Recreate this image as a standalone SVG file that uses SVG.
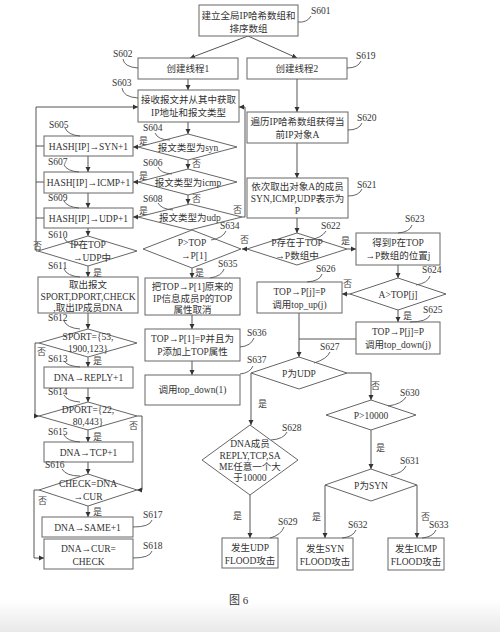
<svg xmlns="http://www.w3.org/2000/svg" width="500" height="632" viewBox="0 0 500 632">
<defs>
<marker id="ah" markerWidth="6" markerHeight="6" refX="5" refY="3" orient="auto" markerUnits="userSpaceOnUse">
<path d="M0,0.5 L5,3 L0,5.5 Z" fill="#333"/>
</marker>
<linearGradient id="bg" x1="0" y1="0" x2="0" y2="1">
<stop offset="0" stop-color="#ffffff"/>
<stop offset="1" stop-color="#e9e9e9"/>
</linearGradient>
<style>
.b{fill:#fff;stroke:#666;stroke-width:1}
.t{font-family:"Liberation Serif","DejaVu Serif","Noto Sans CJK SC",serif;font-size:9.5px;fill:#333;text-anchor:middle}
.l{font-family:"Liberation Serif","DejaVu Serif","Noto Sans CJK SC",serif;font-size:9.5px;fill:#333}
.y{font-family:"Liberation Serif","Noto Sans CJK SC",serif;font-size:9px;fill:#444}
.c{fill:none;stroke:#555;stroke-width:1}
.a{marker-end:url(#ah)}
.ld{fill:none;stroke:#555;stroke-width:0.9}
</style>
</defs>
<rect x="0" y="0" width="500" height="632" fill="#fff"/>
<rect x="0" y="600" width="500" height="32" fill="url(#bg)"/>

<g id="connectors">
<path class="c a" d="M248,36 L190,58"/>
<path class="c a" d="M248,36 L297,58"/>
<path class="c a" d="M188,79 L188,90"/>
<path class="c a" d="M297,79 L297,112"/>
<path class="c a" d="M297,143 L297,178"/>
<path class="c a" d="M297,218 L297,233"/>
<path class="c a" d="M188,122 L188,134"/>
<path class="c a" d="M188,160 L188,169"/>
<path class="c a" d="M188,195 L188,204"/>
<path class="c a" d="M138,147 L133,147"/>
<path class="c a" d="M138,182 L133,182"/>
<path class="c a" d="M138,217 L133,217"/>
<path class="c a" d="M242,217 L245,217 L245,107 L239,107"/>
<path class="c" d="M44,146 L36,146"/>
<path class="c" d="M44,182 L36,182"/>
<path class="c" d="M44,218 L36,218"/>
<path class="c a" d="M38,251 L36,251 L36,107 L138,107"/>
<path class="c a" d="M88,156 L88,172"/>
<path class="c a" d="M88,193 L88,208"/>
<path class="c a" d="M88,228 L88,236"/>
<path class="c a" d="M88,266 L88,277"/>
<path class="c a" d="M88,313 L88,329"/>
<path class="c a" d="M88,357 L88,367"/>
<path class="c a" d="M39,343 L35,343 L35,416 L39,416"/>
<path class="c a" d="M88,388 L88,402"/>
<path class="c a" d="M88,430 L88,442"/>
<path class="c a" d="M137,416 L142,416 L142,490 L137,490"/>
<path class="c a" d="M88,462 L88,474"/>
<path class="c a" d="M88,506 L88,517"/>
<path class="c a" d="M39,490 L34,490 L34,558 L44,558"/>
<path class="c a" d="M347,249 L356,249"/>
<path class="c a" d="M247,249 L242,249"/>
<path class="c a" d="M192,268 L192,278"/>
<path class="c a" d="M192,315 L192,329"/>
<path class="c a" d="M192,361 L192,375"/>
<path class="c a" d="M398,265 L398,278"/>
<path class="c a" d="M350,294 L342,294"/>
<path class="c a" d="M398,310 L398,322"/>
<path class="c" d="M356,339 L299,339"/>
<path class="c a" d="M299,313 L299,357"/>
<path class="c a" d="M251,373 L251,425"/>
<path class="c a" d="M347,373 L371,373 L371,400"/>
<path class="c a" d="M250,495 L250,538"/>
<path class="c a" d="M371,430 L371,469"/>
<path class="c a" d="M325,485 L325,538"/>
<path class="c a" d="M417,485 L417,538"/>
<text class="y" x="139" y="144">是</text>
<text class="y" x="139" y="179">是</text>
<text class="y" x="139" y="214">是</text>
<text class="y" x="192" y="167">否</text>
<text class="y" x="192" y="202">否</text>
<text class="y" x="233" y="213">否</text>
<text class="y" x="33" y="249">否</text>
<text class="y" x="93" y="276">是</text>
<text class="y" x="37" y="355">否</text>
<text class="y" x="93" y="364">是</text>
<text class="y" x="129" y="429">否</text>
<text class="y" x="93" y="440">是</text>
<text class="y" x="38" y="504">否</text>
<text class="y" x="93" y="515">是</text>
<text class="y" x="341" y="244">是</text>
<text class="y" x="240" y="243">否</text>
<text class="y" x="195" y="276">是</text>
<text class="y" x="343" y="287">否</text>
<text class="y" x="403" y="319">是</text>
<text class="y" x="258" y="407">是</text>
<text class="y" x="371" y="389">否</text>
<text class="y" x="233" y="519">是</text>
<text class="y" x="376" y="451">是</text>
<text class="y" x="312" y="520">是</text>
<text class="y" x="421" y="520">否</text>
</g>

<g id="S601"><rect class="b" x="199" y="5" width="99" height="31"/><text class="t" x="248.5" y="18.5">建立全局IP哈希数组和</text><text class="t" x="248.5" y="31.5">排序数组</text><path class="ld" d="M298,22 Q307,23 311,16"/><text class="l" x="311" y="14">S601</text></g>
<g id="S602"><rect class="b" x="138" y="58" width="100" height="21"/><text class="t" x="188" y="72">创建线程1</text><path class="ld" d="M123,59 Q124,67 138,68"/><text class="l" x="113" y="57">S602</text></g>
<g id="S619"><rect class="b" x="247" y="58" width="100" height="21"/><text class="t" x="297" y="72">创建线程2</text><path class="ld" d="M347,68 Q358,68 361,61"/><text class="l" x="356" y="59">S619</text></g>
<g id="S603"><rect class="b" x="138" y="90" width="101" height="32"/><text class="t" x="188.5" y="103">接收报文并从其中获取</text><text class="t" x="188.5" y="116">IP地址和报文类型</text><path class="ld" d="M122,88 Q123,97 138,98"/><text class="l" x="112" y="86">S603</text></g>
<g id="S620"><rect class="b" x="247" y="112" width="101" height="31"/><text class="t" x="297.5" y="125">遍历IP哈希数组获得当</text><text class="t" x="297.5" y="138">前IP对象A</text><path class="ld" d="M348,130 Q359,130 362,123"/><text class="l" x="357" y="121">S620</text></g>
<g id="S621"><rect class="b" x="247" y="178" width="101" height="40"/><text class="t" x="297.5" y="190">依次取出对象A的成员</text><text class="t" x="297.5" y="202">SYN,ICMP,UDP表示为</text><text class="t" x="297.5" y="214">P</text><path class="ld" d="M348,196 Q359,196 362,189"/><text class="l" x="357" y="188">S621</text></g>
<g id="S604"><path class="b" d="M188,134 L237,147 L188,160 L138,147 Z"/><text class="t" x="188" y="150.5">报文类型为syn</text><path class="ld" d="M155,133 Q158,140 170,140"/><text class="l" x="143" y="131">S604</text></g>
<g id="S605"><rect class="b" x="44" y="136" width="89" height="20"/><text class="t" x="88.5" y="149.5">HASH[IP]→SYN+1</text><path class="ld" d="M65,128 Q68,135 80,136"/><text class="l" x="49" y="128">S605</text></g>
<g id="S606"><path class="b" d="M188,169 L237,182 L188,195 L138,182 Z"/><text class="t" x="188" y="185.5">报文类型为icmp</text><path class="ld" d="M158,167 Q160,173 172,174"/><text class="l" x="143" y="166">S606</text></g>
<g id="S607"><rect class="b" x="44" y="172" width="89" height="21"/><text class="t" x="88.5" y="186">HASH[IP]→ICMP+1</text><path class="ld" d="M64,165 Q67,171 79,172"/><text class="l" x="48" y="165">S607</text></g>
<g id="S608"><path class="b" d="M190,204 L242,217 L190,230 L138,217 Z"/><text class="t" x="190" y="220.5">报文类型为udp</text><path class="ld" d="M158,203 Q161,209 173,210"/><text class="l" x="143" y="202">S608</text></g>
<g id="S609"><rect class="b" x="44" y="208" width="89" height="20"/><text class="t" x="88.5" y="221.5">HASH[IP]→UDP+1</text><path class="ld" d="M64,201 Q67,207 79,208"/><text class="l" x="48" y="201">S609</text></g>
<g id="S610"><path class="b" d="M88,236 L137,251 L88,266 L38,251 Z"/><text class="t" x="88" y="248">IP在TOP</text><text class="t" x="92" y="261">→UDP中</text><path class="ld" d="M64,238 Q67,245 82,245"/><text class="l" x="48" y="238">S610</text></g>
<g id="S611"><rect class="b" x="38" y="277" width="100" height="36"/><text class="t" x="88" y="287.5">取出报文</text><text class="t" x="88" y="299.5">SPORT,DPORT,CHECK</text><text class="t" x="88" y="311">,取出IP成员DNA</text><path class="ld" d="M64,269 Q67,276 80,277"/><text class="l" x="48" y="269">S611</text></g>
<g id="S612"><path class="b" d="M88,329 L137,343 L88,357 L39,343 Z"/><text class="t" x="88" y="340">SPORT={53,</text><text class="t" x="88" y="352">1900,123}</text><path class="ld" d="M64,321 Q67,328 80,329"/><text class="l" x="48" y="321">S612</text></g>
<g id="S613"><rect class="b" x="44" y="367" width="89" height="21"/><text class="t" x="88.5" y="381">DNA→REPLY+1</text><path class="ld" d="M64,361 Q67,366 80,367"/><text class="l" x="48" y="362">S613</text></g>
<g id="S614"><path class="b" d="M88,402 L137,416 L88,430 L39,416 Z"/><text class="t" x="88" y="413">DPORT={22,</text><text class="t" x="88" y="425">80,443}</text><path class="ld" d="M64,395 Q67,401 80,402"/><text class="l" x="48" y="395">S614</text></g>
<g id="S615"><rect class="b" x="44" y="442" width="89" height="20"/><text class="t" x="88.5" y="455.5">DNA→TCP+1</text><path class="ld" d="M64,435 Q67,441 80,442"/><text class="l" x="48" y="435">S615</text></g>
<g id="S616"><path class="b" d="M88,474 L137,490 L88,506 L39,490 Z"/><text class="t" x="88" y="487">CHECK=DNA</text><text class="t" x="88" y="500">→CUR</text><path class="ld" d="M62,469 Q66,476 80,476"/><text class="l" x="45" y="468">S616</text></g>
<g id="S617"><rect class="b" x="42" y="517" width="91" height="20"/><text class="t" x="87.5" y="530.5">DNA→SAME+1</text><path class="ld" d="M152,520 Q150,527 133,527"/><text class="l" x="143" y="518">S617</text></g>
<g id="S618"><rect class="b" x="44" y="539" width="89" height="30"/><text class="t" x="88.5" y="552">DNA→CUR=</text><text class="t" x="88.5" y="565">CHECK</text><path class="ld" d="M152,551 Q150,558 133,558"/><text class="l" x="143" y="549">S618</text></g>
<g id="S622"><path class="b" d="M297,233 L347,249 L297,265 L247,249 Z"/><text class="t" x="297" y="246">P存在于TOP</text><text class="t" x="297" y="259">→P数组中</text><path class="ld" d="M326,231 Q322,238 309,240"/><text class="l" x="321" y="229">S622</text></g>
<g id="S623"><rect class="b" x="356" y="233" width="84" height="32"/><text class="t" x="398" y="246">得到P在TOP</text><text class="t" x="398" y="259">→P数组的位置j</text><path class="ld" d="M412,225 Q410,232 398,233"/><text class="l" x="405" y="222">S623</text></g>
<g id="S624"><path class="b" d="M398,278 L446,294 L398,310 L350,294 Z"/><text class="t" x="398" y="297.5">A&gt;TOP[j]</text><text class="l" x="422" y="273">S624</text><path class="ld" d="M430,276 Q428,283 416,285"/></g>
<g id="S625"><rect class="b" x="356" y="322" width="84" height="32"/><text class="t" x="398" y="335">TOP→P[j]=P</text><text class="t" x="398" y="348">调用top_down(j)</text><path class="ld" d="M430,315 Q427,322 410,322"/><text class="l" x="423" y="313">S625</text></g>
<g id="S626"><rect class="b" x="257" y="282" width="85" height="31"/><text class="t" x="299.5" y="295">TOP→P[j]=P</text><text class="t" x="299.5" y="308">调用top_up(j)</text><path class="ld" d="M322,274 Q320,281 307,282"/><text class="l" x="316" y="272">S626</text></g>
<g id="S634"><path class="b" d="M192,230 L241,249 L192,268 L143,249 Z"/><text class="t" x="192" y="246">P&gt;TOP</text><text class="t" x="194" y="259">→P[1]</text><path class="ld" d="M226,231 Q223,238 211,240"/><text class="l" x="220" y="229">S634</text></g>
<g id="S635"><rect class="b" x="145" y="278" width="95" height="37"/><text class="t" x="192.5" y="289.5">把TOP→P[1]原来的</text><text class="t" x="192.5" y="301.5">IP信息成员P的TOP</text><text class="t" x="192.5" y="313">属性取消</text><path class="ld" d="M224,269 Q222,276 210,278"/><text class="l" x="218" y="267">S635</text></g>
<g id="S636"><rect class="b" x="145" y="329" width="95" height="32"/><text class="t" x="192.5" y="342">TOP→P[1]=P并且为</text><text class="t" x="192.5" y="355">P添加上TOP属性</text><path class="ld" d="M254,338 Q251,346 240,347"/><text class="l" x="247" y="336">S636</text></g>
<g id="S637"><rect class="b" x="145" y="375" width="95" height="30"/><text class="t" x="192.5" y="393">调用top_down(1)</text><path class="ld" d="M253,366 Q250,373 240,374"/><text class="l" x="247" y="363">S637</text></g>
<g id="S627"><path class="b" d="M299,357 L347,373 L299,389 L251,373 Z"/><text class="t" x="299" y="376.5">P为UDP</text><path class="ld" d="M330,352 Q327,359 314,363"/><text class="l" x="320" y="350">S627</text></g>
<g id="S628"><path class="b" d="M250,425 L298,460 L250,495 L202,460 Z"/><text class="t" x="250" y="447">DNA成员</text><text class="t" x="250" y="458.5">REPLY,TCP,SA</text><text class="t" x="250" y="469.5">ME任意一个大</text><text class="t" x="250" y="481">于10000</text><path class="ld" d="M287,432 Q284,439 271,440"/><text class="l" x="282" y="431">S628</text></g>
<g id="S629"><rect class="b" x="222" y="538" width="56" height="30"/><text class="t" x="250" y="551">发生UDP</text><text class="t" x="250" y="564">FLOOD攻击</text><path class="ld" d="M284,527 Q281,535 270,538"/><text class="l" x="278" y="525">S629</text></g>
<g id="S630"><path class="b" d="M371,400 L416,415 L371,430 L326,415 Z"/><text class="t" x="371" y="418.5">P&gt;10000</text><path class="ld" d="M406,397 Q402,404 388,406"/><text class="l" x="400" y="396">S630</text></g>
<g id="S631"><path class="b" d="M371,469 L417,485 L371,501 L325,485 Z"/><text class="t" x="371" y="488.5">P为SYN</text><path class="ld" d="M406,466 Q403,473 391,475"/><text class="l" x="400" y="464">S631</text></g>
<g id="S632"><rect class="b" x="297" y="538" width="56" height="32"/><text class="t" x="325" y="552">发生SYN</text><text class="t" x="325" y="565">FLOOD攻击</text><path class="ld" d="M356,530 Q353,537 342,538"/><text class="l" x="348" y="528">S632</text></g>
<g id="S633"><rect class="b" x="388" y="538" width="56" height="32"/><text class="t" x="416" y="552">发生ICMP</text><text class="t" x="416" y="565">FLOOD攻击</text><path class="ld" d="M436,530 Q433,537 422,538"/><text class="l" x="429" y="528">S633</text></g>
<text class="l" x="229" y="604" style="font-size:11px">图 6</text>
</svg>
